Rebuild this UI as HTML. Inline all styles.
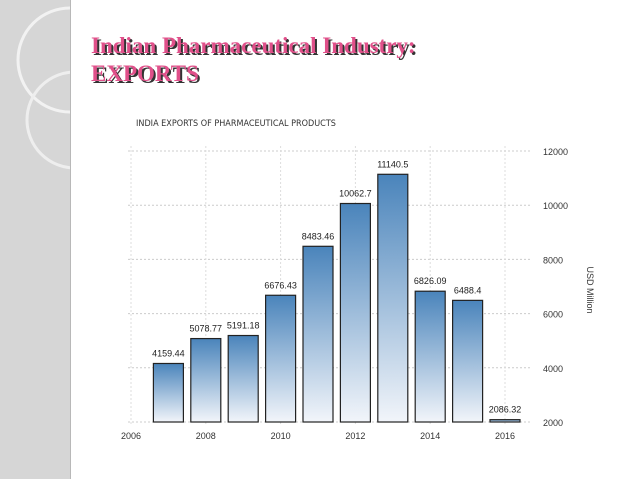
<!DOCTYPE html>
<html><head><meta charset="utf-8"><style>
body{margin:0;width:638px;height:479px;overflow:hidden;background:#fff;font-family:"Liberation Sans",sans-serif;position:relative}
#side{position:absolute;left:0;top:0;width:70px;height:479px;background:#d6d6d6;border-right:1px solid #b8b8b8}
h1{position:absolute;left:91px;top:32px;margin:0;font:bold 23px/28px "Liberation Serif",serif;color:#e0508a;text-shadow:2px 2px 0 #333}
</style></head><body>
<div id="side">
<svg width="70" height="479"><circle cx="70" cy="60" r="52" fill="none" stroke="#f2f2f2" stroke-width="3"/><circle cx="75" cy="120" r="48" fill="none" stroke="#eee" stroke-width="3"/></svg></div>
<h1>Indian Pharmaceutical Industry:<br>EXPORTS</h1>
<svg id="chart" width="638" height="479" style="position:absolute;left:0;top:0">
<text x="136" y="126" font-size="9" fill="#333" style="font-family:'DejaVu Sans Condensed','Liberation Sans Narrow',sans-serif">INDIA EXPORTS OF PHARMACEUTICAL PRODUCTS</text>
<text transform="translate(587,290) rotate(90)" font-size="9" fill="#333" text-anchor="middle">USD Million</text>
<g id="g"></g>
</svg>
<script>
const years=[2007,2008,2009,2010,2011,2012,2013,2014,2015,2016];
const values=[4159.44,5078.77,5191.18,6676.43,8483.46,10062.7,11140.5,6826.09,6488.4,2086.32];
const labels=["4159.44","5078.77","5191.18","6676.43","8483.46","10062.7","11140.5","6826.09","6488.4","2086.32"];
const yTicks=[2000,4000,6000,8000,10000,12000];
const xTicks=[2006,2008,2010,2012,2014,2016];
const NS="http://www.w3.org/2000/svg",g=document.getElementById('g');
const x=v=>131+(v-2006)*37.4, y=v=>422-(v-2000)*(271/10000);
function mk(t,a,txt){const e=document.createElementNS(NS,t);for(const k in a)e.setAttribute(k,a[k]);if(txt!=null)e.textContent=txt;g.appendChild(e);return e;}
const defs=mk('defs',{});defs.innerHTML='<linearGradient id="bg" x1="0" y1="0" x2="0" y2="1"><stop offset="0" stop-color="#4a84bb"/><stop offset="1" stop-color="#f2f5fa"/></linearGradient>';
yTicks.forEach(t=>{
const l=mk('line',{x1:128,x2:532,y1:y(t),y2:y(t),stroke:'#ccc','stroke-dasharray':'2,2'});


const s=mk('text',{x:543,y:y(t)+4,'font-size':9,fill:'#333'},t);


});
xTicks.forEach(t=>{
const l=mk('line',{x1:x(t),x2:x(t),y1:146,y2:426,stroke:'#ddd','stroke-dasharray':'2,2'});


const s=mk('text',{x:x(t),y:439,'font-size':9,fill:'#333','text-anchor':'middle'},t);


});
years.forEach((yr,i)=>{
const top=y(values[i]);
const r=mk('rect',{x:x(yr)-15,y:top,width:30,height:Math.max(422-top,2),fill:'url(#bg)',stroke:'#222','stroke-width':1.2});


const s=mk('text',{x:x(yr),y:top-7,'font-size':9,fill:'#222','text-anchor':'middle'},labels[i]);


});
</script>
</body></html>
